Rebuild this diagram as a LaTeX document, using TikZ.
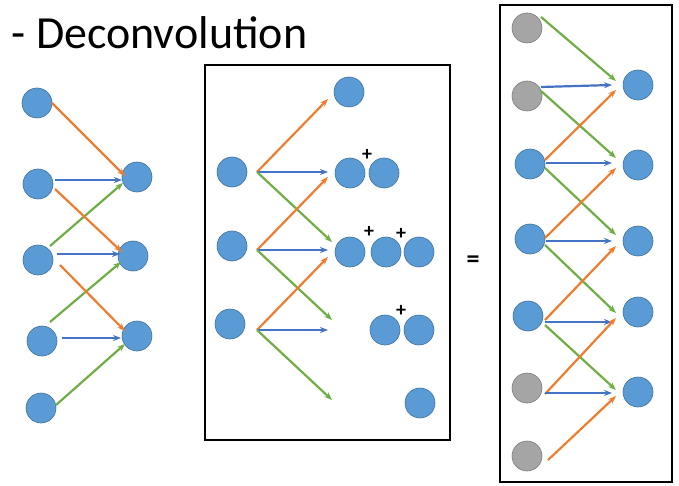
\documentclass[tikz,border=0pt]{standalone}
\usepackage{fontspec}
\setmainfont{Carlito}
\usetikzlibrary{arrows.meta}
\definecolor{cb}{HTML}{5B9BD5}\definecolor{cbs}{HTML}{41719C}
\definecolor{cg}{HTML}{A5A5A5}\definecolor{cgs}{HTML}{7F7F7F}
\definecolor{co}{HTML}{ED7D31}\definecolor{cgr}{HTML}{70AD47}\definecolor{cbl}{HTML}{4472C4}
\begin{document}
\begin{tikzpicture}[x=1pt,y=-1pt,
 b/.style={circle,draw=cbs,fill=cb,minimum size=30pt,inner sep=0,line width=0.6pt},
 g/.style={circle,draw=cgs,fill=cg,minimum size=30pt,inner sep=0,line width=0.6pt},
 a/.style={line width=2.2pt,-{Stealth[length=8pt,width=6pt]}},
 o/.style={a,co},gr/.style={a,cgr},bl/.style={a,cbl},
 box/.style={draw=black,line width=2.2pt},
 pl/.style={font=\bfseries\fontsize{20}{20}\selectfont}]
\useasboundingbox (0,0) rectangle (679,486);
\node[anchor=west,font=\fontsize{46}{46}\selectfont] (t) at (8,33) {- Deconvolution};
% left
\node[b] (l1) at (37,103){};\node[b] (l2) at (38,184){};\node[b] (l3) at (38,260){};
\node[b] (l4) at (42,341){};\node[b] (l5) at (41,408){};
\node[b] (r1) at (137,177){};\node[b] (r2) at (133,256){};\node[b] (r3) at (137,336){};
\coordinate (p1) at (52,103);\coordinate (q1) at (125,176);
\draw[o] (p1)--(q1);
\coordinate (p2) at (55,180);\coordinate (q2) at (122,180);\draw[bl] (p2)--(q2);
\coordinate (p3) at (50,246);\coordinate (q3) at (123,183);\draw[gr] (p3)--(q3);
\coordinate (p4) at (55,189);\coordinate (q4) at (122,252);\draw[o] (p4)--(q4);
\coordinate (p5) at (57,254);\coordinate (q5) at (120,254);\draw[bl] (p5)--(q5);
\coordinate (p6) at (50,322);\coordinate (q6) at (121,262);\draw[gr] (p6)--(q6);
\coordinate (p7) at (60,265);\coordinate (q7) at (125,331);\draw[o] (p7)--(q7);
\coordinate (p8) at (62,338);\coordinate (q8) at (121,338);\draw[bl] (p8)--(q8);
\coordinate (p9) at (56,405);\coordinate (q9) at (125,344);\draw[gr] (p9)--(q9);
% middle
\draw[box] (205,65) rectangle (450,440);
\node[b] (m1) at (232,172){};\node[b] (m2) at (232,246){};\node[b] (m3) at (230,324){};
\node[b] (n1) at (349,92){};\node[b] (n2) at (350,173){};\node[b] (n3) at (384,173){};
\node[b] (n4) at (350,252){};\node[b] (n5) at (386,252){};\node[b] (n6) at (419,252){};
\node[b] (n7) at (385,330){};\node[b] (n8) at (419,330){};\node[b] (n9) at (420,403){};
\node[pl] (s1) at (367,155){+};\node[pl] (s2) at (369,232){+};\node[pl] (s3) at (401,234){+};\node[pl] (s4) at (401,311){+};
\foreach \y/\k in {172/1,250/2,330/3}{
 \coordinate (mm\k) at (257,\y);
 \coordinate (mo\k) at (328,\y-73);\coordinate (mb\k) at (328,\y);\coordinate (mg\k) at (332,\y+70);
 \draw[o] (mm\k)--(mo\k);\draw[bl] (mm\k)--(mb\k);\draw[gr] (mm\k)--(mg\k);}
\node[font=\bfseries\fontsize{26}{26}\selectfont] (eq) at (473,262){=};
% right
\draw[box] (500,5) rectangle (672,482);
\node[g] (x1) at (527,28){};\node[g] (x2) at (527,96){};
\node[b] (x3) at (530,164){};\node[b] (x4) at (530,239){};\node[b] (x5) at (528,316){};
\node[g] (x6) at (527,388){};\node[g] (x7) at (527,456){};
\node[b] (y1) at (638,85){};\node[b] (y2) at (638,165){};\node[b] (y3) at (638,241){};
\node[b] (y4) at (638,312){};\node[b] (y5) at (638,392){};
\coordinate (u1) at (541,17);\coordinate (v1) at (616,81);\draw[gr] (u1)--(v1);
\coordinate (u2) at (541,87);\coordinate (v2) at (612,85);\draw[bl] (u2)--(v2);
\coordinate (u3) at (541,91);\coordinate (v3) at (616,158);\draw[gr] (u3)--(v3);
\coordinate (u4) at (545,160);\coordinate (v4) at (616,90);\draw[o] (u4)--(v4);
\coordinate (u5) at (546,163);\coordinate (v5) at (612,163);\draw[bl] (u5)--(v5);
\coordinate (u6) at (545,168);\coordinate (v6) at (616,235);\draw[gr] (u6)--(v6);
\coordinate (u7) at (545,238);\coordinate (v7) at (616,168);\draw[o] (u7)--(v7);
\coordinate (u8) at (546,241);\coordinate (v8) at (612,241);\draw[bl] (u8)--(v8);
\coordinate (u9) at (545,245);\coordinate (v9) at (616,313);\draw[gr] (u9)--(v9);
\coordinate (u10) at (545,320);\coordinate (v10) at (616,246);\draw[o] (u10)--(v10);
\coordinate (u11) at (545,322);\coordinate (v11) at (612,322);\draw[bl] (u11)--(v11);
\coordinate (u12) at (545,325);\coordinate (v12) at (616,390);\draw[gr] (u12)--(v12);
\coordinate (u13) at (545,394);\coordinate (v13) at (616,318);\draw[o] (u13)--(v13);
\coordinate (u14) at (545,393);\coordinate (v14) at (612,393);\draw[bl] (u14)--(v14);
\coordinate (u15) at (548,460);\coordinate (v15) at (616,396);\draw[o] (u15)--(v15);
\end{tikzpicture}
\end{document}
